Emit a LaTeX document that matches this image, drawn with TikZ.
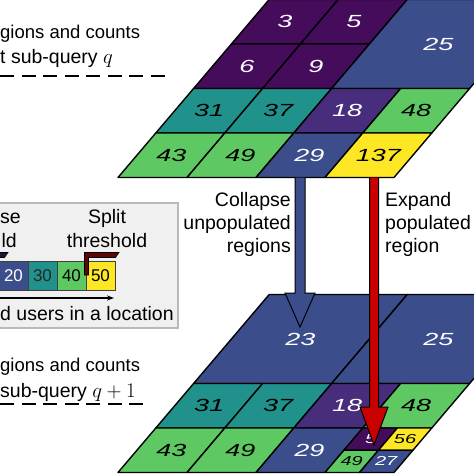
\documentclass[tikz,border=0pt]{standalone}
\usepackage{fontspec}
\setmainfont{Liberation Sans}
\usetikzlibrary{calc,arrows.meta}
\definecolor{vpurple}{RGB}{70,12,92}
\definecolor{vindigo}{RGB}{71,45,123}
\definecolor{vblue}{RGB}{59,78,139}
\definecolor{vteal}{RGB}{33,145,140}
\definecolor{vgreen}{RGB}{94,201,98}
\definecolor{vyellow}{RGB}{253,231,37}
\definecolor{arrred}{RGB}{200,0,0}
\definecolor{markred}{RGB}{95,5,5}
\definecolor{markdark}{RGB}{25,25,45}
\definecolor{legbg}{RGB}{240,240,240}
\definecolor{legborder}{RGB}{185,185,185}
% u1 v1 u2 v2 fill label nodestyle name
\newcommand\gcell[8]{%
  \filldraw[cellline, fill=#5] (#1,#2) -- (#3,#2) -- (#3,#4) -- (#1,#4) -- cycle;
  \node[celltext, #7] (#8) at ({(#1+#3)/2},{(#2+#4)/2}) {\scalebox{1}[0.65]{#6}};}
\begin{document}
\begin{tikzpicture}[x=1pt,y=-1pt,
  cellline/.style={draw=black, line width=1.4pt, line join=round},
  celltext/.style={inner sep=0pt, font=\fontsize{27}{27}\selectfont\itshape},
  smallcell/.style={font=\fontsize{20}{20}\selectfont\itshape},
  lbl/.style={inner sep=0pt, font=\fontsize{19.5}{23}\selectfont},
  toplbl/.style={inner sep=0pt, font=\fontsize{18.5}{23}\selectfont},
  dashline/.style={draw=black, line width=2pt, dash pattern=on 14pt off 7.5pt},
  arrowline/.style={draw=black, line width=1pt, line join=miter},
  legbox/.style={fill=legbg, draw=legborder, line width=1.5pt},
  legcell/.style={draw=black!75, line width=0.8pt, minimum width=29pt, minimum height=29pt, inner sep=0pt, font=\fontsize{17}{17}\selectfont},
  axisline/.style={draw=black, line width=1.1pt, -{Stealth[length=7pt,width=5pt]}},
  marker/.style={line width=0.6pt, draw=black}
]
\useasboundingbox (0,0) rectangle (474,474);
\clip (0,0) rectangle (474,474);

% ---------- top grid (sub-query q) ----------
\begin{scope}[shift={(118,177.5)}, x={(69pt,0pt)}, y={(37.8pt,44.5pt)}]
  \gcell{0}{3}{1}{4}{vpurple}{3}{text=white}{ta3}
  \gcell{1}{3}{2}{4}{vpurple}{5}{text=white}{ta5}
  \gcell{0}{2}{1}{3}{vpurple}{6}{text=white}{ta6}
  \gcell{1}{2}{2}{3}{vpurple}{9}{text=white}{ta9}
  \gcell{2}{2}{4}{4}{vblue}{25}{text=white}{ta25}
  \gcell{0}{1}{1}{2}{vteal}{31}{text=black}{ta31}
  \gcell{1}{1}{2}{2}{vteal}{37}{text=black}{ta37}
  \gcell{2}{1}{3}{2}{vindigo}{18}{text=white}{ta18}
  \gcell{3}{1}{4}{2}{vgreen}{48}{text=black}{ta48}
  \gcell{0}{0}{1}{1}{vgreen}{43}{text=black}{ta43}
  \gcell{1}{0}{2}{1}{vgreen}{49}{text=black}{ta49}
  \gcell{2}{0}{3}{1}{vblue}{29}{text=white}{ta29}
  \gcell{3}{0}{4}{1}{vyellow}{137}{text=black}{ta137}
\end{scope}

% ---------- bottom grid (sub-query q+1) ----------
\begin{scope}[shift={(118,472.5)}, x={(69pt,0pt)}, y={(37.8pt,44.5pt)}]
  \gcell{0}{2}{2}{4}{vblue}{23}{text=white}{tb23}
  \gcell{2}{2}{4}{4}{vblue}{25}{text=white}{tb25}
  \gcell{0}{1}{1}{2}{vteal}{31}{text=black}{tb31}
  \gcell{1}{1}{2}{2}{vteal}{37}{text=black}{tb37}
  \gcell{2}{1}{3}{2}{vindigo}{18}{text=white}{tb18}
  \gcell{3}{1}{4}{2}{vgreen}{48}{text=black}{tb48}
  \gcell{0}{0}{1}{1}{vgreen}{43}{text=black}{tb43}
  \gcell{1}{0}{2}{1}{vgreen}{49}{text=black}{tb49}
  \gcell{2}{0}{3}{1}{vblue}{29}{text=white}{tb29}
  \gcell{3}{0.5}{3.5}{1}{vpurple}{5}{text=white,smallcell}{tb5}
  \gcell{3.5}{0.5}{4}{1}{vyellow}{56}{text=black,smallcell}{tb56}
  \gcell{3}{0}{3.5}{0.5}{vgreen}{49}{text=black,smallcell}{tbs49}
  \gcell{3.5}{0}{4}{0.5}{vblue}{27}{text=white,smallcell}{tb27}
\end{scope}

% ---------- arrows ----------
\coordinate (cs) at (300,177.5);
\coordinate (ce) at (300,327);
\filldraw[arrowline, fill=vblue]
  ($(cs)+(-5,0)$) -- ($(ce)+(-5,-34)$) -- ($(ce)+(-15,-34)$) -- (ce)
  -- ($(ce)+(15,-34)$) -- ($(ce)+(5,-34)$) -- ($(cs)+(5,0)$);
\coordinate (es) at (374,177.5);
\coordinate (ee) at (374,445);
\filldraw[arrowline, fill=arrred]
  ($(es)+(-4.5,0)$) -- ($(ee)+(-4.5,-38)$) -- ($(ee)+(-14,-38)$) -- (ee)
  -- ($(ee)+(14,-38)$) -- ($(ee)+(4.5,-38)$) -- ($(es)+(4.5,0)$);

\node[lbl, anchor=base east] (c1) at (291,206) {Collapse};
\node[lbl, anchor=base east] (c2) at (291,229.3) {unpopulated};
\node[lbl, anchor=base east] (c3) at (291,252) {regions};
\node[lbl, anchor=base west] (e1) at (385,206) {Expand};
\node[lbl, anchor=base west] (e2) at (385,229.3) {populated};
\node[lbl, anchor=base west] (e3) at (385,252) {region};

% ---------- left captions ----------
\node[toplbl, anchor=base west] (q1) at (0,38.3) {gions and counts};
\node[lbl, anchor=base west] (q2) at (0,63) {t sub-query $q$};
\coordinate (d1a) at (0,76);
\coordinate (d1b) at (168,76);
\draw[dashline] (d1a) -- (d1b);

\node[toplbl, anchor=base west] (p1) at (0,371.7) {gions and counts};
\node[lbl, anchor=base west] (p2) at (0,397) {sub-query $q+1$};
\coordinate (d2a) at (0,403.5);
\coordinate (d2b) at (148,403.5);
\draw[dashline] (d2a) -- (d2b);

% ---------- legend ----------
\draw[legbox] (-3,203) rectangle (178,328);
\node[legcell, fill=vblue, text=white] (l20) at (13.5,275.5) {20};
\node[legcell, fill=vteal, text=black!85] (l30) at (42.5,275.5) {30};
\node[legcell, fill=vgreen, text=black] (l40) at (71.5,275.5) {40};
\node[legcell, fill=vyellow, text=black] (l50) at (100.5,275.5) {50};
\filldraw[marker, fill=markred]
  (84.5,275) -- (84.5,252.5) -- (119,252.5) -- (115.5,257.5) -- (88.5,257.5) -- (88.5,275) -- cycle;
\filldraw[marker, fill=markdark]
  (-6,252.5) -- (8,252.5) -- (4.5,257.5) -- (-6,257.5) -- cycle;
\coordinate (ax0) at (-2,298);
\coordinate (ax1) at (114,298);
\draw[axisline] (ax0) -- (ax1);
\node[lbl, anchor=base] (s1) at (107,223) {Split};
\node[lbl, anchor=base] (s2) at (107,247) {threshold};
\node[lbl, anchor=base west] (k1) at (0,223) {se};
\node[lbl, anchor=base east] (k2) at (17,247) {ld};
\node[lbl, anchor=base west] (ax) at (0,320) {d users in a location};
\end{tikzpicture}
\end{document}
